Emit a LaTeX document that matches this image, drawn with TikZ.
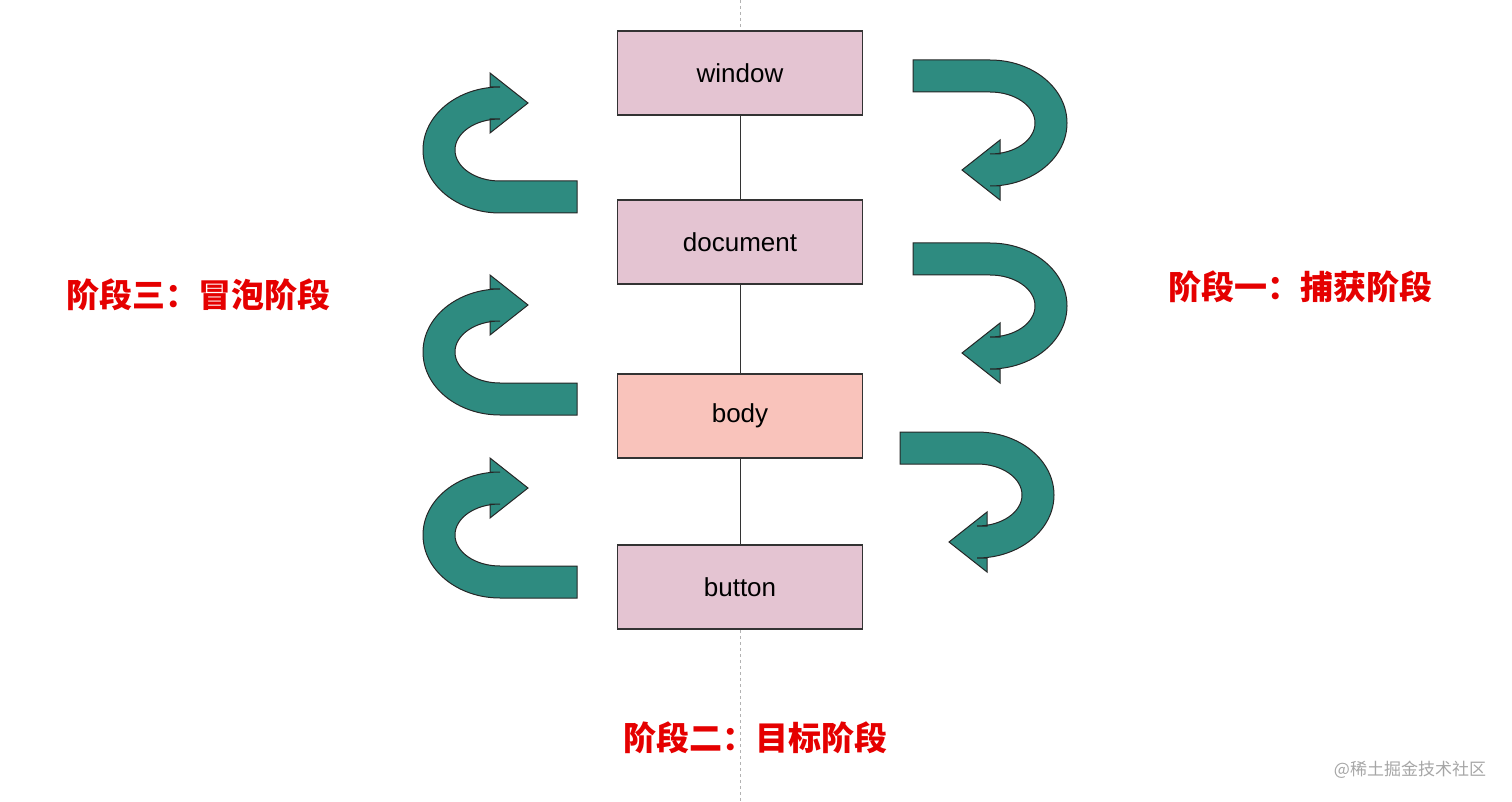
\documentclass[tikz,border=0pt]{standalone}
\usepackage{fontspec}
\setmainfont{Liberation Sans}
\newfontfamily\cjk{Noto Sans CJK SC}
\begin{document}
\begin{tikzpicture}[x=1pt,y=1pt,
  box/.style={draw=black!80,line width=1.2pt,fill=boxpink,minimum width=245pt,minimum height=84pt,font=\fontsize{26}{30}\selectfont},
  stage/.style={text=red!90!black,font=\cjk\bfseries\fontsize{33}{38}\selectfont},
  uturn/.pic={\draw[draw=black!85,line width=1pt,fill=teal2]
     (0,0)--(77,0) arc[start angle=90,end angle=-90,x radius=77,y radius=63]
     --(87,-126)--(87,-140)--(49,-110)--(87,-80)--(87,-94)--(77,-94)
     arc[start angle=-90,end angle=90,x radius=45,y radius=31]--(0,-32)--cycle;}]
\definecolor{boxpink}{HTML}{E4C4D2}
\definecolor{bodyfill}{HTML}{F9C3BB}
\definecolor{teal2}{HTML}{2E8B80}
\useasboundingbox (0,0) rectangle (1512,-802);
\coordinate (ltop) at (740,0);
\coordinate (lbot) at (740,-802);
\draw[gray!60,dash pattern=on 3pt off 3pt,line width=0.8pt] (ltop)--(lbot);
\node[box] (win) at (740,-73) {window};
\node[box] (doc) at (740,-242) {document};
\node[box,fill=bodyfill] (body) at (740,-416) {body};
\node[box] (btn) at (740,-587) {button};
\draw[black!80,line width=1pt] (win)--(doc) (doc)--(body) (body)--(btn);
\pic at (913,-60) {uturn};
\pic at (913,-243) {uturn};
\pic at (900,-432) {uturn};
\pic[rotate=180] at (577,-213) {uturn};
\pic[rotate=180] at (577,-415) {uturn};
\pic[rotate=180] at (577,-598) {uturn};
\node[stage] (s3) at (198,-295) {阶段三：冒泡阶段};
\node[stage] (s1) at (1300,-287) {阶段一：捕获阶段};
\node[stage] (s2) at (755,-738) {阶段二：目标阶段};
\node[text=gray!70,font=\cjk\fontsize{17}{20}\selectfont] (wm) at (1410,-770) {@稀土掘金技术社区};
\end{tikzpicture}
\end{document}
